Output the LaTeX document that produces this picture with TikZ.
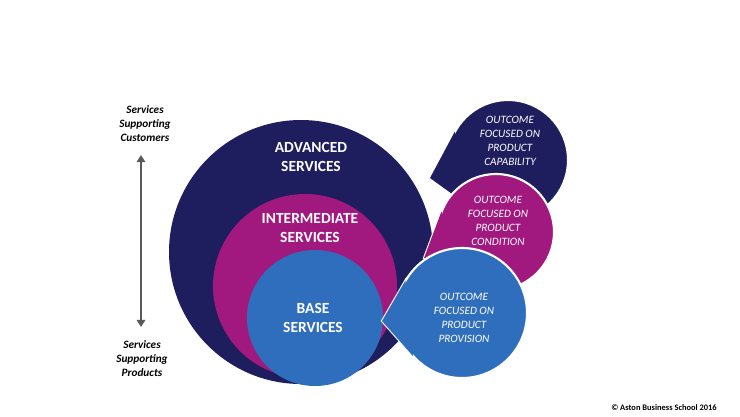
\documentclass[tikz,border=0pt]{standalone}
\usepackage{fontspec}
\setmainfont{Carlito}
\usetikzlibrary{calc,arrows.meta}
\definecolor{navy}{HTML}{1E1E5E}
\definecolor{magenta}{HTML}{A1197E}
\definecolor{azure}{HTML}{2F6EBD}
\definecolor{arrowgray}{HTML}{5A5A5A}
\begin{document}
\begin{tikzpicture}[x=0.025cm,y=-0.025cm,
    ring/.style={circle, inner sep=0pt, minimum size=0.025cm*#1},
    title/.style={text=white, font=\bfseries\fontsize{11}{13}\selectfont, align=center},
    drop/.style={text=white, font=\itshape\fontsize{8}{10}\selectfont, align=center},
    side/.style={font=\bfseries\itshape\fontsize{8}{10}\selectfont, align=center}]
    \useasboundingbox (0,0) rectangle (740,416);
    % nested circles
    \node[ring=264, fill=navy] (adv) at (301,252) {};
    \node[ring=184, fill=magenta] (mid) at (305,286) {};
    \node[ring=136, fill=azure] (base) at (315,318) {};
    \node[title] at (311,157) {ADVANCED\\SERVICES};
    \node[title] at (310,228) {INTERMEDIATE\\SERVICES};
    \node[title] at (313,318) {BASE\\SERVICES};
    % callouts
    \node[ring=120] (capc) at (508,160) {};
    \coordinate (capp) at (430,178);
    \draw[white, line width=1.5pt, fill=navy] (capp) -- (tangent cs:node=capc,point={(capp)},solution=1)
        -- (tangent cs:node=capc,point={(capp)},solution=2) -- cycle;
    \draw[white, line width=1.5pt, fill=navy] (capc) circle[radius=60];
    \fill[navy] (capp) -- (tangent cs:node=capc,point={(capp)},solution=1)
        -- (tangent cs:node=capc,point={(capp)},solution=2) -- cycle;
    \node[ring=116] (conc) at (496,232) {};
    \coordinate (conp) at (424,258);
    \draw[white, line width=1.5pt, fill=magenta] (conp) -- (tangent cs:node=conc,point={(conp)},solution=1)
        -- (tangent cs:node=conc,point={(conp)},solution=2) -- cycle;
    \draw[white, line width=1.5pt, fill=magenta] (conc) circle[radius=58];
    \fill[magenta] (conp) -- (tangent cs:node=conc,point={(conp)},solution=1)
        -- (tangent cs:node=conc,point={(conp)},solution=2) -- cycle;
    \node[ring=130] (proc) at (462,313) {};
    \coordinate (prop) at (382,321);
    \draw[white, line width=1.5pt, fill=azure] (prop) -- (tangent cs:node=proc,point={(prop)},solution=1)
        -- (tangent cs:node=proc,point={(prop)},solution=2) -- cycle;
    \draw[white, line width=1.5pt, fill=azure] (proc) circle[radius=65];
    \fill[azure] (prop) -- (tangent cs:node=proc,point={(prop)},solution=1)
        -- (tangent cs:node=proc,point={(prop)},solution=2) -- cycle;
    \node[drop] at (510,141) {OUTCOME\\FOCUSED ON\\PRODUCT\\CAPABILITY};
    \node[drop] at (498,221) {OUTCOME\\FOCUSED ON\\PRODUCT\\CONDITION};
    \node[drop] at (464,318) {OUTCOME\\FOCUSED ON\\PRODUCT\\PROVISION};
    % scale
    \node[side] (cust) at (145,124) {Services\\Supporting\\Customers};
    \node[side] (prod) at (142,359) {Services\\Supporting\\Products};
    \coordinate (top) at (141,155);
    \coordinate (bot) at (141,327);
    \draw[arrowgray, line width=2pt, {Triangle[length=5pt,width=6pt]}-{Triangle[length=5pt,width=6pt]}] (top) -- (bot);
    \node[font=\bfseries\fontsize{6}{7}\selectfont] (copy) at (664,408) {\textcopyright{} Aston Business School 2016};
\end{tikzpicture}
\end{document}
